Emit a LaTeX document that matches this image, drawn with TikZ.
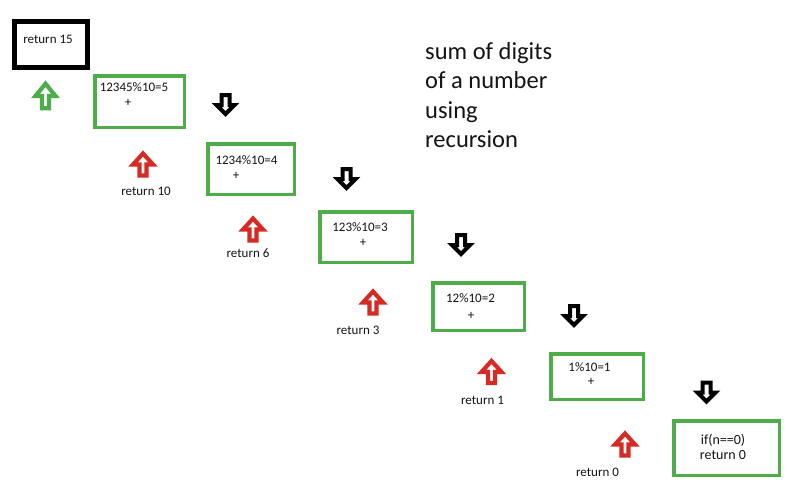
\documentclass[tikz,border=0pt]{standalone}
\usepackage{fontspec}
\setmainfont{Carlito}
\definecolor{boxgreen}{RGB}{78,172,74}
\definecolor{arrred}{RGB}{214,42,36}
\definecolor{txt}{RGB}{20,20,20}
\tikzset{
  gbox/.style={draw=boxgreen, line width=3.5pt, fill=white, inner sep=0pt},
  kbox/.style={draw=black, line width=5pt, fill=white, inner sep=0pt},
  small/.style={font=\fontsize{13}{15}\selectfont, text=txt, inner sep=0pt},
  uparr/.pic={\draw[line width=4.2pt, fill=white, pic actions] (0,-11)--(10,0)--(3.5,0)--(3.5,11)--(-3.5,11)--(-3.5,0)--(-10,0)--cycle;},
  dnarr/.pic={\draw[line width=4pt, fill=white, pic actions] (-4,-10)--(4,-10)--(4,0)--(9,0)--(0,9)--(-9,0)--(-4,0)--cycle;},
}
\begin{document}
\begin{tikzpicture}[x=1pt,y=-1pt]
\useasboundingbox[fill=white] (0,0) rectangle (800,496);
% boxes
\node[kbox, minimum width=73pt, minimum height=46pt] (b0) at (51,44.5) {};
\node[small] (t0) at (48,39) {return 15};
\node[gbox, minimum width=89.5pt, minimum height=51.5pt] (b1) at (139.5,101.5) {};
\node[small] (t1) at (134,87) {12345\%10=5};
\node[small] (p1) at (128,103) {+};
\node[gbox, minimum width=86.5pt, minimum height=50.5pt] (b2) at (251,169) {};
\node[small] (t2) at (246.5,160) {1234\%10=4};
\node[small] (p2) at (236,176) {+};
\node[gbox, minimum width=92.5pt, minimum height=50.5pt] (b3) at (366,237) {};
\node[small] (t3) at (360,227) {123\%10=3};
\node[small] (p3) at (363,243) {+};
\node[gbox, minimum width=91.5pt, minimum height=47.5pt] (b4) at (478.5,306.5) {};
\node[small] (t4) at (470.5,298) {12\%10=2};
\node[small] (p4) at (471,316) {+};
\node[gbox, minimum width=92.5pt, minimum height=45.5pt] (b5) at (597,376.5) {};
\node[small] (t5) at (589.5,367) {1\%10=1};
\node[small] (p5) at (591,382) {+};
\node[gbox, minimum width=105.5pt, minimum height=54.5pt] (b6) at (726.5,448) {};
\node[small, font=\fontsize{14}{15.5}\selectfont, align=center] (t6) at (723,447) {if(n==0)\\return 0};
% return labels
\node[small] (r10) at (146,191) {return 10};
\node[small] (r6) at (248,253) {return 6};
\node[small] (r3) at (358,330) {return 3};
\node[small] (r1) at (482.5,400) {return 1};
\node[small] (r0) at (597.5,472) {return 0};
% arrows
\pic[draw=boxgreen, yscale=1.12] at (45.5,96) {uparr};
\pic[draw=arrred] at (143,164.5) {uparr};
\pic[draw=arrred] at (253,229.5) {uparr};
\pic[draw=arrred] at (373,302.5) {uparr};
\pic[draw=arrred] at (491.5,372) {uparr};
\pic[draw=arrred] at (625,444.5) {uparr};
\pic[draw=black] at (225.5,105) {dnarr};
\pic[draw=black] at (346.5,179) {dnarr};
\pic[draw=black] at (461,245) {dnarr};
\pic[draw=black] at (574,316) {dnarr};
\pic[draw=black] at (706.5,392.5) {dnarr};
% title
\node[anchor=north west, inner sep=0pt, align=left, text=txt, font=\fontsize{24.5}{29.5}\selectfont] (title) at (425,42) {sum of digits\\of a number\\using\\recursion};
\end{tikzpicture}
\end{document}
